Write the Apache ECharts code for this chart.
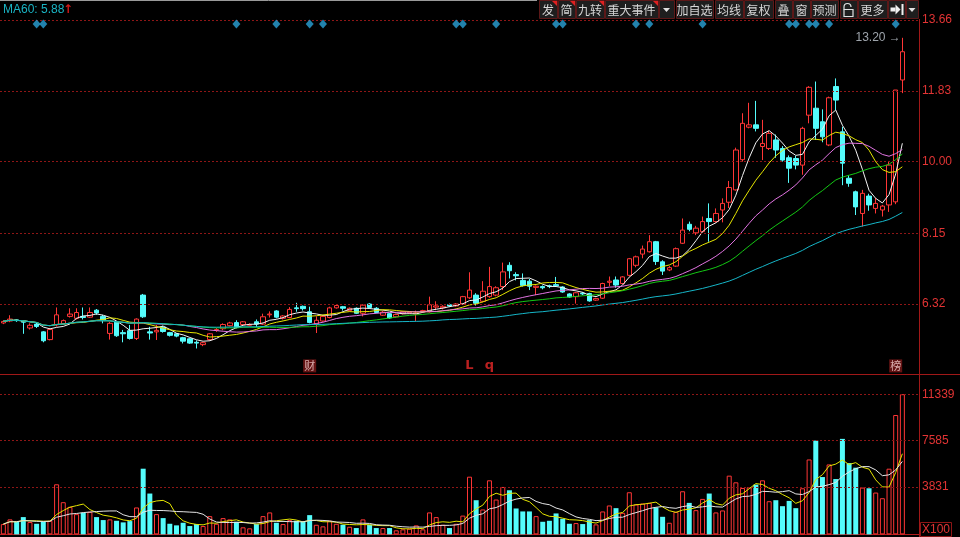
<!DOCTYPE html>
<html>
<head>
<meta charset="utf-8">
<title>K线</title>
<script src="https://cdn.jsdelivr.net/npm/echarts@6/dist/echarts.min.js"></script>
<style>
    html, body { margin: 0; padding: 0; background: #000; }
    #main { width: 960px; height: 537px; }
</style>
</head>
<body>
<div id="main"></div>
<script>
// 日K: [开, 收, 低, 高]
var kData = [
    [5.83, 5.87, 5.80, 5.90], [5.88, 5.93, 5.85, 6.03], [5.91, 5.89, 5.86, 5.93], [5.88, 5.85, 5.55, 5.90],
    [5.70, 5.77, 5.66, 5.82], [5.80, 5.74, 5.70, 5.83], [5.60, 5.37, 5.33, 5.62], [5.40, 5.66, 5.38, 5.70],
    [5.78, 6.04, 5.74, 6.23], [5.81, 5.89, 5.78, 5.92], [6.00, 6.06, 5.97, 6.21], [5.95, 6.10, 5.92, 6.21],
    [6.00, 5.97, 5.92, 6.23], [5.98, 6.10, 5.96, 6.23], [6.16, 6.09, 6.04, 6.19], [6.00, 5.89, 5.82, 6.04],
    [5.56, 5.82, 5.40, 5.86], [5.85, 5.50, 5.47, 5.88], [5.58, 5.55, 5.33, 5.65], [5.63, 5.43, 5.40, 5.78],
    [5.43, 5.93, 5.39, 5.95], [6.55, 5.99, 5.96, 6.58], [5.60, 5.57, 5.40, 5.73], [5.60, 5.64, 5.39, 5.78],
    [5.72, 5.61, 5.58, 5.76], [5.58, 5.51, 5.48, 5.60], [5.55, 5.49, 5.46, 5.57], [5.45, 5.36, 5.30, 5.47],
    [5.42, 5.31, 5.29, 5.44], [5.33, 5.31, 5.17, 5.38], [5.27, 5.32, 5.23, 5.34], [5.40, 5.55, 5.37, 5.57],
    [5.64, 5.66, 5.60, 5.70], [5.68, 5.79, 5.64, 5.82], [5.76, 5.83, 5.74, 5.86], [5.84, 5.71, 5.69, 5.90],
    [5.79, 5.86, 5.76, 5.88], [5.77, 5.79, 5.74, 5.82], [5.86, 5.80, 5.72, 5.92], [5.80, 5.99, 5.78, 6.07],
    [6.04, 6.06, 5.97, 6.13], [6.14, 5.98, 5.95, 6.16], [5.95, 6.01, 5.92, 6.03], [5.97, 6.18, 5.95, 6.24],
    [6.22, 6.20, 6.12, 6.35], [6.26, 6.20, 6.15, 6.28], [6.12, 5.84, 5.82, 6.25], [5.80, 5.90, 5.57, 6.00],
    [5.88, 6.00, 5.86, 6.03], [5.97, 6.22, 5.95, 6.25], [6.22, 6.28, 6.20, 6.31], [6.25, 6.21, 6.15, 6.27],
    [6.15, 6.21, 6.13, 6.23], [6.21, 6.08, 6.06, 6.23], [6.08, 6.29, 6.00, 6.31], [6.32, 6.23, 6.20, 6.34],
    [6.21, 6.10, 6.08, 6.24], [6.03, 6.11, 6.01, 6.14], [6.07, 5.96, 5.94, 6.09], [5.99, 6.05, 5.97, 6.07],
    [6.07, 6.12, 6.05, 6.14], [6.09, 6.11, 6.07, 6.13], [6.06, 6.09, 5.88, 6.15], [6.12, 6.15, 6.10, 6.17],
    [6.12, 6.30, 6.10, 6.51], [6.24, 6.27, 6.16, 6.39], [6.22, 6.26, 6.18, 6.29], [6.30, 6.27, 6.24, 6.33],
    [6.27, 6.32, 6.25, 6.34], [6.32, 6.51, 6.30, 6.53], [6.48, 6.68, 6.45, 7.14], [6.55, 6.34, 6.28, 6.60],
    [6.39, 6.65, 6.36, 6.91], [6.51, 6.77, 6.48, 7.28], [6.55, 6.74, 6.52, 6.78], [6.77, 7.15, 6.68, 7.39],
    [7.32, 7.18, 6.98, 7.40], [7.08, 7.05, 6.93, 7.14], [6.93, 6.80, 6.77, 7.11], [6.91, 6.78, 6.68, 6.97],
    [6.75, 6.78, 6.55, 6.80], [6.77, 6.74, 6.70, 6.80], [6.79, 6.77, 6.73, 6.82], [6.82, 6.79, 6.76, 7.02],
    [6.76, 6.63, 6.61, 6.78], [6.58, 6.50, 6.48, 6.60], [6.51, 6.61, 6.33, 6.63], [6.60, 6.58, 6.55, 6.63],
    [6.59, 6.40, 6.38, 6.61], [6.42, 6.46, 6.40, 6.48], [6.47, 6.85, 6.45, 6.87], [6.88, 6.91, 6.78, 7.03],
    [6.94, 6.81, 6.74, 7.03], [6.85, 7.02, 6.83, 7.04], [7.06, 7.49, 7.03, 7.51], [7.32, 7.54, 7.27, 7.57],
    [7.61, 7.74, 7.50, 7.83], [7.67, 7.93, 7.65, 8.10], [7.93, 7.42, 7.33, 7.95], [7.41, 7.17, 7.07, 7.45],
    [7.20, 7.26, 7.17, 7.30], [7.30, 7.75, 7.28, 7.78], [7.89, 8.23, 7.87, 8.53], [8.38, 8.25, 8.20, 8.45],
    [8.16, 8.28, 8.10, 8.34], [8.19, 8.45, 8.17, 8.58], [8.53, 8.45, 7.93, 8.92], [8.45, 8.66, 8.42, 8.79],
    [8.75, 8.92, 8.43, 9.05], [8.95, 9.33, 8.80, 9.50], [9.27, 10.30, 9.25, 10.36], [10.05, 10.99, 10.00, 11.25],
    [10.89, 10.95, 10.86, 11.52], [10.95, 10.86, 10.78, 11.57], [10.39, 10.47, 10.04, 11.08], [10.34, 10.73, 10.30, 10.80],
    [10.56, 10.30, 10.10, 10.70], [10.34, 10.04, 10.00, 10.40], [10.10, 9.83, 9.45, 10.16], [10.08, 9.91, 9.80, 10.15],
    [9.91, 10.86, 9.66, 10.90], [11.20, 11.92, 10.99, 11.95], [11.38, 10.86, 10.56, 12.07], [11.03, 10.64, 10.50, 11.35],
    [10.43, 11.65, 10.40, 11.68], [11.94, 11.59, 11.33, 12.15], [10.77, 9.96, 9.39, 10.90], [9.57, 9.44, 9.35, 9.65],
    [9.22, 8.83, 8.62, 9.25], [8.66, 9.18, 8.32, 9.27], [9.11, 8.88, 8.73, 9.17], [8.79, 8.92, 8.66, 9.06],
    [8.75, 8.85, 8.58, 8.88], [8.88, 9.91, 8.70, 9.99], [8.96, 11.85, 8.90, 11.85], [12.11, 12.84, 11.77, 13.20]
];

// 成交量 (x100)
var volumes = [
    836, 1214, 1021, 1399, 1000, 860, 1021, 1101, 4052, 2604,
    2227, 1640, 1745, 1825, 1399, 1158, 1214, 1101, 972, 1077,
    2178, 5313, 3304, 1640, 1318, 860, 731, 941, 675, 836,
    675, 1479, 860, 1318, 1214, 1021, 571, 490, 836, 1479,
    1777, 941, 836, 1158, 1101, 1021, 1559, 780, 651, 1101,
    860, 780, 619, 514, 1214, 780, 514, 514, 514, 330,
    410, 465, 731, 410, 1777, 1399, 780, 514, 860, 1520,
    4667, 2765, 2017, 4373, 2821, 3836, 3569, 2097, 1857, 1857,
    1479, 1021, 1101, 1696, 1262, 860, 916, 836, 1158, 810,
    1857, 2339, 2122, 1745, 3408, 2419, 2499, 2548, 2178, 1423,
    941, 1825, 3489, 2548, 1961, 2870, 3304, 1777, 1937, 4750,
    4212, 3754, 3810, 4027, 4373, 2685, 2765, 2283, 2709, 2122,
    3730, 6061, 7589, 4638, 5659, 4477, 7725, 5764, 5394, 3786,
    3730, 3384, 2926, 5313, 9654, 11339
];

var priceTicks = [13.66, 11.83, 10.00, 8.15, 6.32];
var volumeTicks = [11339, 7585, 3831];
var eventDays = [5, 6, 35, 41, 46, 48, 68, 69, 74, 83, 84, 95, 97, 105, 118, 119, 121, 122, 124, 134];
var noteMarks = [['财', 46, true], ['L', 70, false], ['q', 73, false], ['榜', 134, true]];
var highDay = 135;
var highPrice = 13.20;

var UP = '#ff3636';
var DOWN = '#54fcfc';
var GRID_RED = '#8e1616';

/**
 * 均线, 前端不足 n 天时按已有天数平均
 */
function calcMA(arr, n) {
    var out = [];
    for (var i = 0; i < arr.length; i++) {
        var s = 0, k = 0;
        for (var j = Math.max(0, i - n + 1); j <= i; j++) {
            s += arr[j];
            k++;
        }
        out.push(+(s / k).toFixed(3));
    }
    return out;
}

var closes = kData.map(function (d) { return d[1]; });
var days = [];
for (var i = 0; i < kData.length + 2; i++) {
    days.push(i);
}

var volBars = volumes.map(function (v, i) {
    var up = kData[i][1] >= kData[i][0];
    return {
        value: v,
        itemStyle: up ? {color: '#000', borderColor: UP, borderWidth: 1} : {color: DOWN, borderColor: DOWN, borderWidth: 0}
    };
});

function maLine(name, data, color, xi) {
    return {
        name: name,
        type: 'line',
        data: data,
        xAxisIndex: xi,
        yAxisIndex: xi,
        symbol: 'none',
        silent: true,
        lineStyle: {color: color, width: 1},
        z: 3
    };
}

function tickLines(ticks, fixed) {
    return {
        symbol: ['none', 'none'],
        silent: true,
        animation: false,
        lineStyle: {color: GRID_RED, type: [2, 2], width: 1},
        label: {
            position: 'end',
            distance: 3,
            color: '#e23434',
            fontSize: 12,
            fontFamily: 'Liberation Sans',
            formatter: function (p) { return fixed ? p.value.toFixed(2) : String(p.value); }
        },
        data: ticks.map(function (v) { return {yAxis: v}; })
    };
}

// 顶部工具条
var toolButtons = [
    ['发', 539, 557, true], ['简', 558, 575, true], ['九转', 576, 604, true], ['重大事件', 605, 658, true],
    ['drop', 659, 674], ['加自选', 676, 713], ['均线', 715, 743], ['复权', 744, 773], ['叠', 775, 792],
    ['窗', 793, 810], ['预测', 811, 838], ['lock', 840, 857], ['更多', 858, 887], ['end', 888, 905], ['drop', 906, 918]
];

function buildToolbar() {
    var g = [];
    toolButtons.forEach(function (b) {
        var x0 = b[1], x1 = b[2], cx = (x0 + x1) / 2;
        g.push({type: 'rect', shape: {x: x0 + 0.5, y: 0.5, width: x1 - x0, height: 18}, style: {fill: '#1e1e1e', stroke: '#5c1818', lineWidth: 1}, z: 10});
        if (b[3]) {
            g.push({type: 'polygon', shape: {points: [[x1 - 5, 1], [x1, 1], [x1, 6]]}, style: {fill: '#e02020'}, z: 11});
        }
        if (b[0] === 'drop') {
            g.push({type: 'polygon', shape: {points: [[cx - 3.5, 8], [cx + 3.5, 8], [cx, 12]]}, style: {fill: '#e0e0e0'}, z: 11});
        } else if (b[0] === 'lock') {
            g.push({type: 'rect', shape: {x: cx - 4.5, y: 9.5, width: 9, height: 7}, style: {fill: 'none', stroke: '#e0e0e0', lineWidth: 1.2}, z: 11});
            g.push({type: 'arc', shape: {cx: cx - 1, cy: 7, r: 3.5, startAngle: Math.PI, endAngle: 2 * Math.PI}, style: {fill: 'none', stroke: '#e0e0e0', lineWidth: 1.2}, z: 11});
            g.push({type: 'line', shape: {x1: cx - 4.5, y1: 7, x2: cx - 4.5, y2: 9.5}, style: {stroke: '#e0e0e0', lineWidth: 1.2}, z: 11});
        } else if (b[0] === 'end') {
            g.push({type: 'rect', shape: {x: cx - 6, y: 7.5, width: 5, height: 4}, style: {fill: '#f0f0f0'}, z: 11});
            g.push({type: 'polygon', shape: {points: [[cx - 1, 4.5], [cx + 4, 9.5], [cx - 1, 14.5]]}, style: {fill: '#f0f0f0'}, z: 11});
            g.push({type: 'rect', shape: {x: cx + 5, y: 4, width: 2, height: 11}, style: {fill: '#f0f0f0'}, z: 11});
        } else {
            g.push({type: 'text', x: cx, y: 10, style: {text: b[0], fill: '#d6d6d6', font: '12px "Noto Sans CJK SC"', align: 'center', verticalAlign: 'middle'}, z: 11});
        }
    });
    return g;
}

var chart = echarts.init(document.getElementById('main'), null, {renderer: 'canvas'});

var option = {
    backgroundColor: '#000',
    animation: false,
    grid: [
        {left: -1, right: 41, top: 20, height: 352},
        {left: -1, right: 41, top: 376, height: 158.4}
    ],
    xAxis: [
        {type: 'category', gridIndex: 0, data: days, boundaryGap: true, axisLine: {show: false}, axisTick: {show: false}, axisLabel: {show: false}, splitLine: {show: false}},
        {type: 'category', gridIndex: 1, data: days, boundaryGap: true, axisLine: {show: true, lineStyle: {color: '#b01c1c'}}, axisTick: {show: false}, axisLabel: {show: false}, splitLine: {show: false}}
    ],
    yAxis: [
        {type: 'value', gridIndex: 0, min: 4.5626, max: 13.66, show: false},
        {type: 'value', gridIndex: 1, min: 0, max: 12810, show: false}
    ],
    graphic: buildToolbar().concat([
        {type: 'line', shape: {x1: 0, y1: 0.5, x2: 537, y2: 0.5}, style: {stroke: '#9a9a9a', lineWidth: 1}, z: 9},
        {type: 'line', shape: {x1: 919.5, y1: 19, x2: 919.5, y2: 537}, style: {stroke: '#a01818', lineWidth: 1}, z: 9},
        {type: 'line', shape: {x1: 0, y1: 374.5, x2: 960, y2: 374.5}, style: {stroke: '#a01818', lineWidth: 1}, z: 9},
        {type: 'text', x: 3, y: 10, style: {text: 'MA60: 5.88', fill: '#19b4c4', font: '12px "Liberation Sans"', verticalAlign: 'middle'}, z: 9},
        {type: 'text', x: 63, y: 10, style: {text: '↑', fill: '#d01818', font: 'bold 12px "DejaVu Sans"', verticalAlign: 'middle'}, z: 9},
        {type: 'rect', shape: {x: 920.5, y: 522.5, width: 31, height: 14}, style: {fill: '#000', stroke: '#8e1616', lineWidth: 1}, z: 9},
        {type: 'text', x: 936, y: 530, style: {text: 'X100', fill: '#e23434', font: '12px "Liberation Sans"', align: 'center', verticalAlign: 'middle'}, z: 10}
    ]),
    series: [
        {
            name: 'K线',
            type: 'candlestick',
            xAxisIndex: 0,
            yAxisIndex: 0,
            data: kData,
            barWidth: 5,
            itemStyle: {color: '#000', color0: DOWN, borderColor: UP, borderColor0: DOWN, borderWidth: 1},
            markLine: tickLines(priceTicks, true),
            z: 2
        },
        maLine('MA5', calcMA(closes, 5), '#f2f2f2', 0),
        maLine('MA10', calcMA(closes, 10), '#e6e600', 0),
        maLine('MA20', calcMA(closes, 20), '#e274e2', 0),
        maLine('MA30', calcMA(closes, 30), '#14c814', 0),
        maLine('MA60', calcMA(closes, 60), '#16b6c8', 0),
        {
            name: '事件',
            type: 'scatter',
            xAxisIndex: 0,
            yAxisIndex: 0,
            symbol: 'diamond',
            symbolSize: [8, 9],
            silent: true,
            itemStyle: {color: '#2aa2d8'},
            data: eventDays.map(function (d) { return [d, 13.555]; }),
            z: 5
        },
        {
            name: '标记',
            type: 'scatter',
            xAxisIndex: 0,
            yAxisIndex: 0,
            silent: true,
            data: noteMarks.map(function (m) {
                return {
                    value: [m[1], 4.72],
                    symbol: 'rect',
                    symbolSize: m[2] ? [13, 13] : [1, 1],
                    itemStyle: {color: m[2] ? '#7c1818' : 'rgba(0,0,0,0)'},
                    label: {
                        show: true,
                        position: 'inside',
                        formatter: m[0],
                        color: m[2] ? '#f4d0d0' : '#e82828',
                        fontSize: m[2] ? 11 : 13,
                        fontWeight: m[2] ? 'normal' : 'bold',
                        fontFamily: m[2] ? 'Noto Sans CJK SC' : 'DejaVu Sans'
                    }
                };
            }),
            z: 5
        },
        {
            name: '最高',
            type: 'scatter',
            xAxisIndex: 0,
            yAxisIndex: 0,
            silent: true,
            symbolSize: 1,
            itemStyle: {color: 'rgba(0,0,0,0)'},
            label: {show: true, position: 'left', distance: 1, formatter: highPrice.toFixed(2) + ' →', color: '#c4ccd4', fontSize: 12, fontFamily: 'Liberation Sans'},
            data: [[highDay, highPrice]],
            z: 5
        },
        {
            name: '成交量',
            type: 'bar',
            xAxisIndex: 1,
            yAxisIndex: 1,
            data: volBars,
            barWidth: 5,
            markLine: tickLines(volumeTicks, false),
            z: 2
        },
        maLine('VMA5', calcMA(volumes, 5), '#e6e600', 1),
        maLine('VMA10', calcMA(volumes, 10), '#e6e6e6', 1)
    ]
};

if (option && typeof option === "object") {
    chart.setOption(option, true);
}
</script>
</body>
</html>
